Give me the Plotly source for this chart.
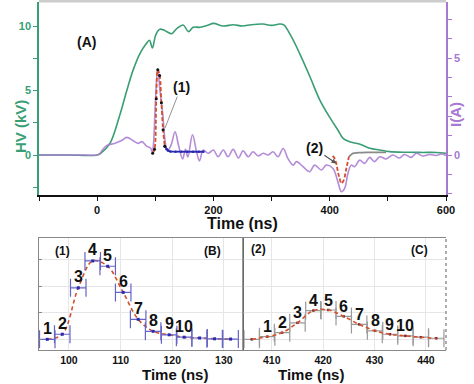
import plotly.graph_objects as go

# ---------------- data ----------------
hv_t = [-100, -50, 0, 8, 22, 39, 51, 62, 74, 84, 90, 95, 100, 104, 108, 114, 120, 128, 137, 148,
        157, 165, 177, 190, 200, 217, 234, 250, 265, 285, 300, 314, 321, 334, 348, 366, 383, 403,
        414, 423, 434, 451, 469, 486, 503, 532, 560, 583, 600]
hv_kv = [0, 0, 0, 0.2, 0.9, 3.1, 5.0, 6.6, 7.9, 8.6, 8.9, 8.3, 9.2, 9.6, 9.75, 9.7, 9.56, 9.4, 9.8,
         10.08, 9.56, 9.9, 9.9, 10.05, 10.2, 10.0, 10.1, 10.0, 10.1, 10.15, 10.05, 10.15, 10.08, 9.17,
         7.9, 6.07, 4.26, 2.7, 1.94, 1.29, 1.03, 0.85, 0.52, 0.39, 0.26, 0.21, 0.2, 0.2, 0.13]

i_t = [-100, -60, -20, 0, 5, 10, 17, 30, 42, 51, 62, 71, 77, 85, 92, 95, 97, 100, 104, 108, 112.7,
       116.7, 120.7, 127, 134, 140, 147, 152, 156, 164, 171, 176, 182.5, 191, 200, 208, 217, 225,
       234, 243, 251, 260, 268, 277, 285.5, 294, 302.6, 311, 320, 328, 337, 343, 354, 365.6, 374,
       385.7, 394, 405.6, 414, 420, 425.7, 431.4, 437, 443, 451.5, 460, 468.6, 477, 486, 497, 508.6,
       520, 528.5, 540, 549, 560, 572, 583, 592, 600]
i_a = [0, 0, 0, 0, 0.08, 0.3, 0.5, 0.6, 0.75, 0.91, 0.74, 0.6, 0.69, 0.46, 0.35, 0.15, 0.6, 2.6,
       4.45, 3.35, 2.15, 0.77, 0.22, 0.5, 1.2, 0.5, -0.2, 0.3, -0.1, 1.05, 0.17, -0.3, 0.26, 0.09,
       0.26, -0.09, 0.26, -0.09, 0.29, -0.15, 0.22, -0.09, 0.17, -0.05, 0.09, 0.0, 0.17, -0.09, 0.34,
       -0.17, -0.52, -0.34, -0.6, -0.86, -0.52, -0.77, -0.52, -0.69, -1.37, -1.89, -1.72, -0.94,
       -0.52, -0.6, -0.26, -0.43, -0.12, -0.34, -0.09, -0.2, 0.0, -0.15, 0.03, -0.12, 0.09, -0.05,
       0.03, -0.02, 0.05, -0.02]

fit1_t = [95.5, 98.7, 101.7, 104.3, 107.5, 110.5, 113.4, 116.3]
fit1_i = [0.09, 0.3, 2.9, 4.4, 4.1, 2.7, 1.3, 0.45]
tail1_t = [116.3, 119.4, 122.3, 126, 135, 145, 155, 165, 175, 183]
tail1_i = [0.45, 0.3, 0.22, 0.18, 0.17, 0.17, 0.17, 0.17, 0.17, 0.17]

fit2_t = [405, 408, 411.4, 414, 417, 420, 424, 428.6, 433]
fit2_i = [-0.05, -0.15, -0.45, -0.85, -1.2, -1.46, -1.3, -0.69, -0.09]
tail2_t = [433, 437, 440, 450, 463, 480, 497]
tail2_i = [-0.09, 0.02, 0.09, 0.12, 0.14, 0.14, 0.14]

b_t = [95.8, 98.7, 101.8, 104.6, 107.5, 110.5, 113.4, 116.3, 119.4, 122.3, 125.3, 128.2, 131.3]
b_v = [0.0, 0.19, 1.93, 2.94, 2.74, 1.76, 0.75, 0.30, 0.17, 0.08, 0.05, 0.02, 0.01]
b_lab = ["1", "2", "3", "4", "5", "6", "7", "8", "9", "10", "", "", ""]

c_t = [406.1, 409.1, 412.0, 415.0, 418.1, 421.0, 424.0, 427.0, 430.1, 433.0, 436.0, 439.0, 442.0]
c_v = [0.0, 0.1, 0.25, 0.62, 1.08, 1.1, 0.86, 0.56, 0.32, 0.19, 0.13, 0.08, 0.04]
c_lab = ["", "1", "2", "3", "4", "5", "6", "7", "8", "9", "10", "", ""]

bin_half = 1.5  # ns, half width of each time bin

top_x_ticks = [-100, 0, 100, 200, 300, 400, 500, 600]
top_x_text = ["", "0", "", "200", "", "400", "", "600"]
hv_ticks = [-2.5, 0, 2.5, 5, 7.5, 10]
hv_text = ["", "0", "", "5", "", "10"]
i_ticks = [-2, -1, 0, 1, 2, 3, 4, 5, 6, 7]
i_text = ["", "", "0", "", "", "", "", "5", "", ""]

# ---------------- styling ----------------
FONT = "Liberation Sans"
GREEN = "#3a9e74"
PURPLE = "#a878d2"
RED = "#d4502c"
BLUE = "#2a2ab0"
EBLUE = "#6464c8"
GREY = "#9a9a9a"

fig = go.Figure()

# top panel
fig.add_trace(go.Scatter(x=hv_t, y=hv_kv, mode="lines", line=dict(color=GREEN, width=1.6, shape="spline"),
                         xaxis="x", yaxis="y"))
fig.add_trace(go.Scatter(x=i_t, y=i_a, mode="lines", line=dict(color=PURPLE, width=1.6, shape="spline"),
                         opacity=0.85, xaxis="x", yaxis="y2"))
fig.add_trace(go.Scatter(x=tail1_t, y=tail1_i, mode="lines+markers", line=dict(color=BLUE, width=1.8),
                         marker=dict(size=2.5, color=BLUE), xaxis="x", yaxis="y2"))
fig.add_trace(go.Scatter(x=fit1_t, y=fit1_i, mode="lines+markers",
                         line=dict(color=RED, width=1.8, dash="4px,2px", shape="spline"),
                         marker=dict(size=3, color="#111111"), xaxis="x", yaxis="y2"))
fig.add_trace(go.Scatter(x=tail2_t, y=tail2_i, mode="lines", line=dict(color="#8a8a8a", width=1.8, shape="spline"),
                         xaxis="x", yaxis="y2"))
fig.add_trace(go.Scatter(x=fit2_t, y=fit2_i, mode="lines",
                         line=dict(color=RED, width=1.8, dash="4px,2px", shape="spline"),
                         xaxis="x", yaxis="y2"))

# panel B
fig.add_trace(go.Scatter(x=b_t, y=b_v, mode="lines", line=dict(color=RED, width=1.6, dash="4px,3px", shape="spline"),
                         xaxis="x3", yaxis="y3"))
fig.add_trace(go.Scatter(x=b_t, y=b_v, mode="markers",
                         marker=dict(symbol="square", size=3, color=BLUE),
                         error_x=dict(type="constant", value=bin_half, color=EBLUE, thickness=1.2, width=9),
                         xaxis="x3", yaxis="y3"))
# panel C
fig.add_trace(go.Scatter(x=c_t, y=c_v, mode="markers",
                         marker=dict(symbol="square", size=2.5, color="#7a2a2a"),
                         error_x=dict(type="constant", value=bin_half, color=GREY, thickness=1.2, width=9),
                         xaxis="x4", yaxis="y4"))
fig.add_trace(go.Scatter(x=c_t, y=c_v, mode="lines", line=dict(color=RED, width=1.6, dash="4px,3px", shape="spline"),
                         xaxis="x4", yaxis="y4"))

ann = []
for t, v, s in zip(b_t, b_v, b_lab):
    if s:
        ann.append(dict(x=t, y=v, xref="x3", yref="y3", text=s, showarrow=False, yshift=11,
                        font=dict(family=FONT, size=16, color="#111111", weight="bold")))
for t, v, s in zip(c_t, c_v, c_lab):
    if s:
        ann.append(dict(x=t, y=v, xref="x4", yref="y4", text=s, showarrow=False, yshift=10,
                        font=dict(family=FONT, size=16, color="#111111", weight="bold")))

bold = lambda sz, col="#111111": dict(family=FONT, size=sz, color=col, weight="bold")
ann += [
    dict(x=75 / 474, y=1 - 32 / 384, xref="paper", yref="paper", text="(A)", showarrow=False, font=bold(14)),
    dict(x=116.7, y=1.39, xref="x", yref="y2", text="(1)", showarrow=True, ax=16, ay=-41,
         arrowhead=0, arrowwidth=0.8, arrowcolor="#777777", font=bold(14)),
    dict(x=411.4, y=-0.43, xref="x", yref="y2", text="(2)", showarrow=True, ax=-22, ay=-15,
         arrowhead=2, arrowsize=0.8, arrowwidth=1.2, arrowcolor="#555555", font=bold(14)),
    dict(x=242.5 / 474, y=1 - 223 / 384, xref="paper", yref="paper", text="Time (ns)", showarrow=False,
         font=bold(16)),
    dict(x=141 / 474, y=0, xref="paper", yref="paper", yanchor="bottom", text="Time (ns)",
         showarrow=False, borderpad=0, font=bold(15)),
    dict(x=344.5 / 474, y=0, xref="paper", yref="paper", yanchor="bottom", text="Time (ns)",
         showarrow=False, borderpad=0, font=bold(15)),
    dict(x=10 / 474, y=1 - 98 / 384, xref="paper", yref="paper", text="HV (kV)", showarrow=False,
         textangle=-90, font=bold(15, GREEN)),
    dict(x=466 / 474, y=1 - 100 / 384, xref="paper", yref="paper", text="I(A)", showarrow=False,
         textangle=-90, font=bold(15, PURPLE)),
    dict(x=53 / 474, y=1 - 251 / 384, xref="paper", yref="paper", text="(1)", showarrow=False, font=bold(12)),
    dict(x=212 / 474, y=1 - 251 / 384, xref="paper", yref="paper", text="(B)", showarrow=False, font=bold(12)),
    dict(x=258 / 474, y=1 - 249 / 384, xref="paper", yref="paper", text="(2)", showarrow=False, font=bold(12)),
    dict(x=430 / 474, y=1 - 250 / 384, xref="paper", yref="paper", text="(C)", showarrow=False, font=bold(12)),
]

XL, XM, XR = 39 / 474, 243 / 474, 446 / 474
TOP = [1 - 195 / 384, 1 - 2 / 384]
BOT = [1 - 350 / 384, 1 - 238 / 384]

shapes = [
    dict(type="line", xref="paper", yref="paper", x0=XL, x1=XR, y0=1 - 1 / 384, y1=1 - 1 / 384,
         line=dict(color="#cccccc", width=3)),
    dict(type="line", xref="paper", yref="paper", x0=XR, x1=XR, y0=BOT[0], y1=BOT[1],
         line=dict(color="#777777", width=1.2, dash="dot")),
    dict(type="line", xref="paper", yref="paper", x0=XM, x1=XM, y0=BOT[0], y1=BOT[1],
         line=dict(color="#555555", width=1.2)),
]

tickf = bold(11)
botf = bold(10.5)
common = dict(automargin=False)
fig.update_layout(
    template="none",
    width=474, height=384, autosize=False, showlegend=False,
    margin=dict(l=0, r=0, t=0, b=0, pad=0),
    paper_bgcolor="white", plot_bgcolor="white",
    font=dict(family=FONT),
    xaxis=dict(domain=[XL, XR], anchor="y", range=[-100, 600], tickvals=top_x_ticks, ticktext=top_x_text,
               ticks="outside", ticklen=4, tickcolor="#111111", showline=True, linecolor="#111111", linewidth=1.5,
               showgrid=False, zeroline=False, tickfont=tickf, **common),
    yaxis=dict(domain=TOP, anchor="x", range=[-3.1, 11.86], tickvals=hv_ticks, ticktext=hv_text,
               ticks="outside", ticklen=4, tickcolor=GREEN, showline=True, linecolor=GREEN, linewidth=1.5,
               showgrid=False, zeroline=False, tickfont=bold(11, GREEN), **common),
    yaxis2=dict(overlaying="y", side="right", anchor="x", range=[-2.06, 7.89], tickvals=i_ticks, ticktext=i_text,
                ticks="outside", ticklen=4, tickcolor=PURPLE, showline=True, linecolor=PURPLE, linewidth=1.5,
                showgrid=False, zeroline=False, tickfont=bold(11, PURPLE), **common),
    xaxis3=dict(domain=[XL, XM], anchor="y3", range=[94.2, 133.7], tickvals=[100, 110, 120, 130],
                ticks="", showline=True, mirror=True, linecolor="#888888", linewidth=1,
                showgrid=True, gridcolor="#e6e6e6", zeroline=False, tickfont=botf, **common),
    yaxis3=dict(domain=BOT, anchor="x3", range=[-0.4, 3.8], tickvals=[0, 1, 2, 3], showticklabels=False,
                ticks="inside", ticklen=3, tickcolor="#888888", showline=True, mirror=True, linecolor="#888888",
                linewidth=1, showgrid=True, gridcolor="#e6e6e6", zeroline=False, **common),
    xaxis4=dict(domain=[XM, XR], anchor="y4", range=[404.4, 443.9], tickvals=[410, 420, 430, 440],
                ticks="", showline=True, mirror=True, linecolor="#888888", linewidth=1,
                showgrid=True, gridcolor="#e6e6e6", zeroline=False, tickfont=botf, **common),
    yaxis4=dict(domain=BOT, anchor="x4", range=[-0.4, 3.8], tickvals=[0, 1, 2, 3], showticklabels=False,
                ticks="", showline=False, showgrid=True, gridcolor="#e6e6e6", zeroline=False, **common),
    annotations=ann, shapes=shapes,
)

fig.write_html("out.html", config={"displayModeBar": False},
               post_script="document.body.style.margin='0';document.body.style.padding='0';")
